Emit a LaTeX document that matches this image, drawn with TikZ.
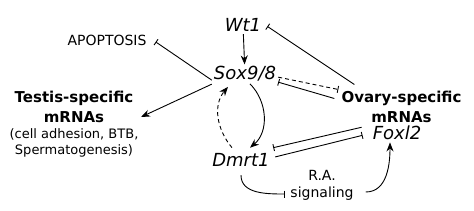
\documentclass[tikz,border=0pt]{standalone}
\usepackage{fontspec}
\setmainfont{DejaVu Sans}
\usetikzlibrary{arrows.meta}

\begin{document}
\begin{tikzpicture}[x=1pt,y=-1pt,
    gene/.style={anchor=base,inner sep=2pt,font=\fontsize{18}{20}\selectfont\itshape},
    plain/.style={inner sep=2pt,align=center,font=\fontsize{14}{17}\selectfont},
    group/.style={inner sep=2pt,align=center,font=\fontsize{15}{20}\selectfont\bfseries},
    note/.style={inner sep=2pt,align=center,font=\fontsize{13}{15.5}\selectfont},
    act/.style={line width=0.9pt,-{Stealth[length=9pt,width=7pt]}},
    inh/.style={line width=0.9pt,-{Bar[width=7pt]}},
    weak/.style={dash pattern=on 4pt off 3pt}]

    \useasboundingbox (0,0) rectangle (474,211);

    % Place the genes
    \node (wt) at (243,32) [gene] {Wt1};
    \node (sox) at (245,80) [gene] {Sox9/8};
    \node (dmrt) at (241,167) [gene] {Dmrt1};
    \node (foxl2) at (397,140) [gene] {Foxl2};

    % Place the outputs and signals
    \node (apop) at (107,46) [plain,anchor=base] {APOPTOSIS};
    \node (testis) at (74,106.5) [group] {Testis-specific\\mRNAs};
    \node (testisnote) at (74,143) [note] {(cell adhesion, BTB,\\Spermatogenesis)};
    \node (ovary) at (401.5,106.5) [group] {Ovary-specific\\mRNAs};
    \node (ra) at (322,185) [plain] {R.A.\\signaling};

    % Draw the links around Sox9/8
    \draw[act] (wt) -- (sox);
    \draw[inh] ([yshift=-6pt]sox.west) -- ([xshift=7pt,yshift=-1pt]apop.east);
    \draw[act] ([yshift=-10pt]sox.west) -- ([xshift=5.5pt,yshift=-10.5pt]testis.east);
    \draw[inh] ([xshift=15pt,yshift=4pt]ovary.north west) -- ([xshift=4pt,yshift=-1pt]wt.east);
    \draw[inh,weak] ([yshift=-3pt]sox.east) -- ([xshift=-1pt,yshift=-1pt]ovary.north west);
    \draw[inh] ([xshift=-5pt,yshift=-10pt]ovary.north west) -- ([yshift=-8pt]sox.east);

    % Draw the loop between Sox9/8 and Dmrt1
    \draw[act] ([xshift=5pt]sox.south) to[out=-45,in=40] ([xshift=9pt,yshift=4pt]dmrt.north);
    \draw[act,weak] ([xshift=-9pt,yshift=4pt]dmrt.north) to[out=130,in=-130] ([xshift=-17pt,yshift=-3pt]sox.south);

    % Draw the links between Dmrt1 and Foxl2
    \draw[inh] ([xshift=-9pt,yshift=6pt]foxl2.west) -- ([xshift=1.4pt,yshift=4pt]dmrt.north east);
    \draw[inh] ([xshift=3.4pt,yshift=3.5pt]dmrt.east) -- ([xshift=-8pt,yshift=-2pt]foxl2.west);
    \draw[inh] ([yshift=-6pt]dmrt.south) to[out=-90,in=180] ([xshift=-3.5pt,yshift=-9pt]ra.west);
    \draw[act] ([xshift=10pt,yshift=-7pt]ra.east) to[out=0,in=-90] ([xshift=-7pt]foxl2.south);

\end{tikzpicture}
\end{document}
